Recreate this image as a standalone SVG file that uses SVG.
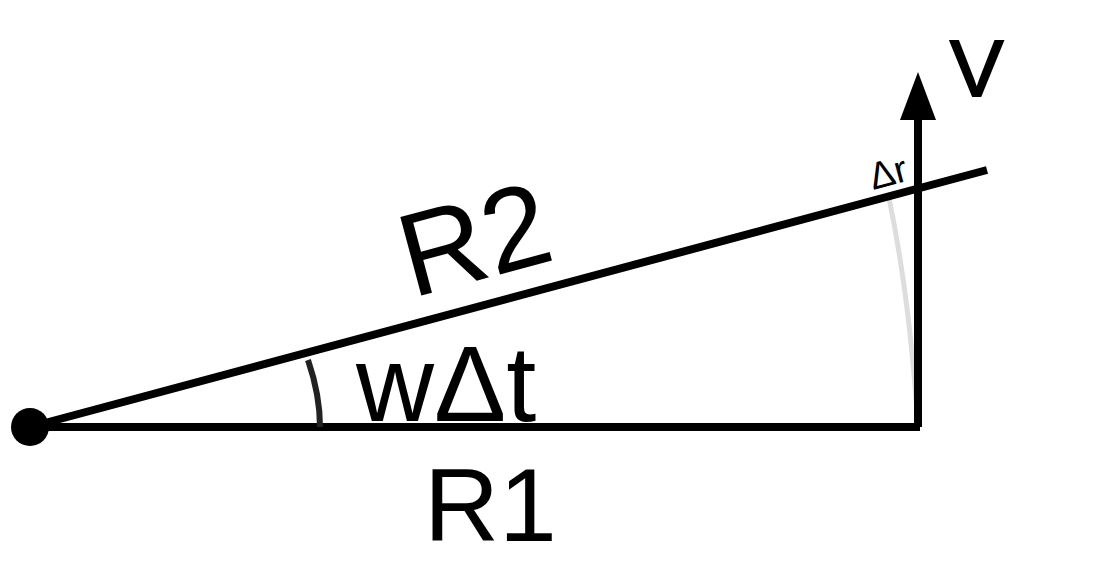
<svg xmlns="http://www.w3.org/2000/svg" width="1101" height="571" viewBox="0 0 1101 571">
<style>
.l{stroke:#000;stroke-width:8;fill:none}
.t{font-family:"Liberation Sans",Arial,sans-serif;fill:#000}
</style>
<rect width="1101" height="571" fill="#fff"/>
<g id="connectors">
<path d="M889,198 Q910,300 918,427" stroke="#ddd" stroke-width="5" fill="none"/>
<line class="l" x1="30" y1="427" x2="920" y2="427"/>
<line class="l" x1="30" y1="427" x2="987" y2="170"/>
<line class="l" x1="918" y1="427" x2="918" y2="112"/>
<polygon points="918,72 900,120 936,120" fill="#000"/>
<path d="M308,360 Q320,395 320,427" stroke="#222" stroke-width="6" fill="none"/>
</g>
<g id="center"><circle cx="30" cy="427" r="19" fill="#000"/></g>
<g id="labels">
<text class="t" font-size="118" transform="translate(412,298) rotate(-15)">R2</text>
<text class="t" font-size="108" x="356" y="421">wΔt</text>
<text class="t" font-size="104" x="424" y="541">R1</text>
<text class="t" font-size="80" x="950" y="96" stroke="#000" stroke-width="2">V</text>
<text class="t" font-size="38" transform="translate(873,190) rotate(-15)">Δr</text>
</g>
</svg>
